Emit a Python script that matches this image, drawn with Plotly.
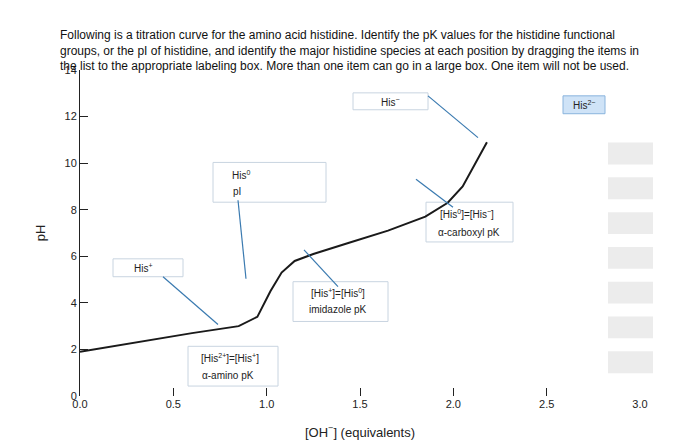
import plotly.graph_objects as go

# titration curve
oh_eq = [0.0, 0.3, 0.6, 0.85, 0.95, 1.02, 1.08, 1.15, 1.25, 1.45, 1.65, 1.85, 1.97, 2.05, 2.12, 2.18]
ph = [1.9, 2.3, 2.7, 3.0, 3.4, 4.5, 5.3, 5.8, 6.1, 6.6, 7.1, 7.7, 8.3, 9.0, 10.0, 10.9]

x_ticks = [0.0, 0.5, 1.0, 1.5, 2.0, 2.5, 3.0]
y_ticks = [0, 2, 4, 6, 8, 10, 12, 14]

W, H = 700, 441
L, R, T, B = 72, 68, 62, 51


def dx(px):
    return (px - L) / (W - L - R) * 3.0


def dy(py):
    return (H - B - py) / (H - T - B) * 14.0


fig = go.Figure()
fig.add_trace(go.Scatter(x=oh_eq, y=ph, mode="lines",
                         line=dict(color="#1a1a1a", width=2), showlegend=False))

shapes = []
annotations = []


def box(x0, y0, x1, y1, fill="rgba(255,255,255,0)", line="#c8d4e0"):
    shapes.append(dict(type="rect", xref="x", yref="y", x0=dx(x0), x1=dx(x1),
                       y0=dy(y1), y1=dy(y0), line=dict(color=line, width=1),
                       fillcolor=fill, layer="below"))


def leader(x0, y0, x1, y1):
    shapes.append(dict(type="line", xref="x", yref="y", x0=dx(x0), y0=dy(y0),
                       x1=dx(x1), y1=dy(y1), line=dict(color="#3a7ab0", width=1.2)))


def label(px, py, text, size=11):
    annotations.append(dict(x=dx(px), y=dy(py), xref="x", yref="y", text=text,
                            showarrow=False, font=dict(size=size, color="#222")))


# right side faded boxes
for yy in [135, 170, 205, 240, 275, 310, 345]:
    shapes.append(dict(type="rect", xref="paper", yref="paper",
                       x0=(600 - L) / (W - L - R), x1=(645 - L) / (W - L - R),
                       y0=dy(yy + 22) / 14, y1=dy(yy) / 14,
                       line=dict(width=0), fillcolor="#ececec", layer="below"))

box(345, 85, 420, 102)
label(382, 94, "His<sup>−</sup>", 10)
box(555, 88, 597, 106, fill="#cfe3f7", line="#8ab4dd")
label(576, 97, "His<sup>2−</sup>", 10)
box(205, 155, 318, 195)
label(233, 168, "His<sup>0</sup>", 10)
label(229, 184, "pI", 10)
box(418, 195, 505, 235)
label(459, 207, "[His<sup>0</sup>]=[His<sup>−</sup>]", 10)
label(461, 225, "α-carboxyl pK", 10)
box(105, 252, 175, 270)
label(135, 261, "His<sup>+</sup>", 10)
box(285, 275, 380, 315)
label(330, 286, "[His<sup>+</sup>]=[His<sup>0</sup>]", 10)
label(330, 303, "imidazole pK", 10)
box(180, 340, 270, 380)
label(222, 352, "[His<sup>2+</sup>]=[His<sup>+</sup>]", 10)
label(220, 369, "α-amino pK", 10)
box(85, 407, 125, 427)
label(102, 416, "His<sup>2+</sup>", 9)

leader(420, 88, 470, 130)
leader(445, 200, 408, 172)
leader(330, 280, 296, 243)
leader(155, 270, 210, 318)
leader(230, 193, 238, 272)

fig.update_layout(
    width=W, height=H, margin=dict(l=L, r=R, t=T, b=B),
    plot_bgcolor="white", paper_bgcolor="white",
    font=dict(family="Liberation Sans, Arial", color="#222"),
    shapes=shapes, annotations=annotations + [
        dict(x=-0.04, y=1.0, xref="paper", yref="paper", yanchor="bottom", xanchor="left",
             showarrow=False, align="left", yshift=-5,
             text="Following is a titration curve for the amino acid histidine. Identify the pK values for the histidine functional<br>"
                  "groups, or the pI of histidine, and identify the major histidine species at each position by dragging the items in<br>"
                  "the list to the appropriate labeling box. More than one item can go in a large box. One item will not be used.",
             font=dict(size=12, color="#111")),
    ],
    xaxis=dict(range=[0, 3], tickvals=x_ticks, ticktext=[f"{v:.1f}" for v in x_ticks],
               showgrid=False, zeroline=False, ticks="inside", ticklen=8,
               showline=False, title=dict(text="[OH<sup>−</sup>] (equivalents)", standoff=18,
                                          font=dict(size=13))),
    yaxis=dict(range=[0, 14], tickvals=y_ticks, showgrid=False, zeroline=False,
               ticks="inside", ticklen=8, showline=True, linecolor="#222",
               title=dict(text="pH", font=dict(size=13)), anchor="x"),
)
fig.update_xaxes(tickcolor="#222", tickfont=dict(size=11))
fig.update_yaxes(tickcolor="#222", tickfont=dict(size=11))

fig.write_html("out.html")
